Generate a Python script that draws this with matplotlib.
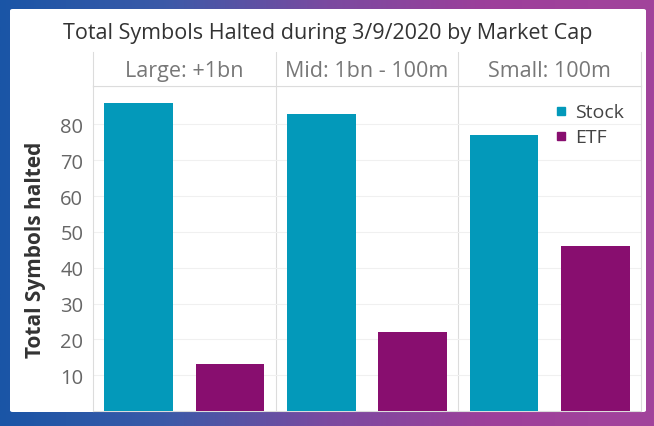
import numpy as np
import matplotlib.pyplot as plt
from matplotlib.patches import FancyBboxPatch
from matplotlib.lines import Line2D
from matplotlib.colors import LinearSegmentedColormap

# data
caps = ['Large: +1bn', 'Mid: 1bn - 100m', 'Small: 100m']
stock = [86, 83, 77]
etf = [13, 22, 46]
yticks = [10, 20, 30, 40, 50, 60, 70, 80]

STOCK_C = '#0399ba'
ETF_C = '#880e6f'
GRID_C = '#dcdcdc'

plt.rcParams['font.family'] = ['Open Sans', 'DejaVu Sans']

W, H = 654, 427
fig = plt.figure(figsize=(W / 100, H / 100), dpi=100)

def fx(px):
    return px / W

def fy(py):
    return 1 - py / H

# background gradient (blue -> purple)
bg = fig.add_axes([0, 0, 1, 1], zorder=-10)
cmap = LinearSegmentedColormap.from_list('bg', ['#1a55a6', '#3b5aa8', '#7a4aa0', '#9d3f9a', '#a2449c'])
grad = np.linspace(0, 1, 256)[None, :].repeat(8, axis=0)
bg.imshow(grad, aspect='auto', cmap=cmap, extent=[0, 1, 0, 1])
bg.set_xlim(0, 1)
bg.set_ylim(0, 1)
bg.axis('off')

# white panel
panel = FancyBboxPatch((fx(10), fy(413)), fx(646) - fx(10), fy(10) - fy(413),
                       boxstyle='round,pad=0,rounding_size=0.004',
                       transform=fig.transFigure, facecolor='white', edgecolor='none', zorder=-5)
fig.patches.append(panel)

fig.text(fx(328), fy(33), 'Total Symbols Halted during 3/9/2020 by Market Cap',
         ha='center', va='center', fontsize=15.5, color='#333333')

# main plot
L, R, T, B = 93, 641, 87, 412
ax = fig.add_axes([fx(L), fy(B), fx(R) - fx(L), fy(T) - fy(B)])
x = np.arange(len(caps)) * 2
ax.bar(x + 0.5, stock, width=0.75, color=STOCK_C, label='Stock', zorder=3)
ax.bar(x + 1.5, etf, width=0.75, color=ETF_C, label='ETF', zorder=3)
ax.set_xlim(0, 2 * len(caps))
ax.set_ylim(0, 90.7)
ax.set_yticks(yticks)
ax.set_xticks([])
ax.tick_params(axis='y', length=0, labelsize=14.5, labelcolor='#666666', pad=7)
ax.grid(axis='y', color='#f0f0f0', linewidth=0.8, zorder=0)
for s in ax.spines.values():
    s.set_color(GRID_C)
    s.set_linewidth(0.8)
for d in x[1:]:
    ax.axvline(d, color=GRID_C, linewidth=0.8, zorder=1)
ax.set_ylabel('Total Symbols halted', fontsize=15, fontweight='bold', color='#333333', labelpad=10)

handles = [Line2D([], [], marker='s', linestyle='none', markersize=6, color=STOCK_C),
           Line2D([], [], marker='s', linestyle='none', markersize=6, color=ETF_C)]
ax.legend(handles, ['Stock', 'ETF'], loc='upper right', bbox_to_anchor=(1.0, 1.0),
          frameon=False, fontsize=14, labelcolor='#444444', handletextpad=0.2,
          labelspacing=0.35, handlelength=1.0)

# header row with market cap labels
hd = fig.add_axes([fx(L), fy(T), fx(R) - fx(L), fy(53) - fy(T)])
hd.set_xlim(0, 2 * len(caps))
hd.set_ylim(0, 1)
hd.set_xticks([])
hd.set_yticks([])
hd.spines['top'].set_visible(False)
for s in ['left', 'right', 'bottom']:
    hd.spines[s].set_color(GRID_C)
    hd.spines[s].set_linewidth(0.8)
for d in x[1:]:
    hd.axvline(d, color=GRID_C, linewidth=0.8)
for xi, lab in zip(x, caps):
    hd.text(xi + 1, 0.45, lab, ha='center', va='center', fontsize=15.5, color='#777777')

fig.savefig('out.png', dpi=100)
